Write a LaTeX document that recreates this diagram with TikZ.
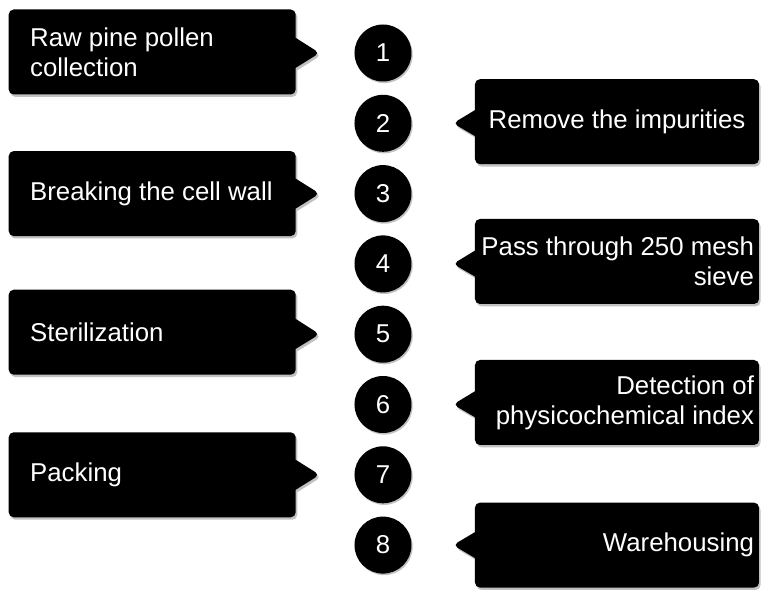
\documentclass[tikz,border=0pt]{standalone}
\usepackage{fontspec}
\setmainfont{Liberation Sans}
\usetikzlibrary{shapes.callouts,shadows}

\tikzstyle{stepnum} = [circle, minimum size=28.5pt, inner sep=0pt, text centered, fill=black, text=white, font=\fontsize{12.9}{15}\selectfont, drop shadow={shadow xshift=.6pt, shadow yshift=-.8pt, fill=black!40, opacity=.6}]
\tikzstyle{leftstage} = [rectangle callout, rounded corners=2.5pt, minimum width=143.5pt, minimum height=42.5pt, text width=122pt, inner xsep=0pt, align=flush left, fill=black, text=white, callout pointer width=15pt, font=\fontsize{12.9}{15}\selectfont, drop shadow={shadow xshift=.8pt, shadow yshift=-1.2pt, fill=black!40, opacity=.6}]
\tikzstyle{rightstage} = [rectangle callout, rounded corners=2.5pt, minimum width=142pt, minimum height=42.5pt, text width=137pt, inner xsep=0pt, align=flush right, fill=black, text=white, callout pointer width=13pt, font=\fontsize{12.9}{15}\selectfont, drop shadow={shadow xshift=.8pt, shadow yshift=-1.2pt, fill=black!40, opacity=.6}]

\begin{document}
\begin{tikzpicture}[node distance=35.15pt]
\path [use as bounding box, fill=white] (-191.5pt,26.5pt) rectangle (192.5pt,-273pt);

%Numbers
\node (C1) [stepnum] {1};
\node (C2) [stepnum,below of=C1] {2};
\node (C3) [stepnum,below of=C2] {3};
\node (C4) [stepnum,below of=C3] {4};
\node (C5) [stepnum,below of=C4] {5};
\node (C6) [stepnum,below of=C5] {6};
\node (C7) [stepnum,below of=C6] {7};
\node (C8) [stepnum,below of=C7] {8};

%Stages on the left
\node (S1) [leftstage,left of=C1,xshift=-80.25pt,yshift=.5pt,callout absolute pointer={([xshift=-17.25pt]C1.west)}] {Raw pine pollen\\collection};
\node (S3) [leftstage,left of=C3,xshift=-80.25pt,callout absolute pointer={([xshift=-17.25pt]C3.west)}] {Breaking the cell wall};
\node (S5) [leftstage,left of=C5,xshift=-80.25pt,yshift=1pt,callout absolute pointer={([xshift=-17.25pt]C5.west)}] {Sterilization};
\node (S7) [leftstage,left of=C7,xshift=-80.25pt,callout absolute pointer={([xshift=-17.25pt]C7.west)}] {Packing};

%Stages on the right
\node (S2) [rightstage,right of=C2,xshift=81.85pt,yshift=.8pt,align=flush center,callout absolute pointer={([xshift=20.6pt]C2.east)}] {Remove the impurities};
\node (S4) [rightstage,right of=C4,xshift=81.85pt,yshift=1.2pt,callout absolute pointer={([xshift=20.6pt]C4.east)}] {Pass through 250 mesh\\sieve};
\node (S6) [rightstage,right of=C6,xshift=81.85pt,yshift=1pt,callout absolute pointer={([xshift=20.6pt]C6.east)}] {Detection of\\physicochemical index};
\node (S8) [rightstage,right of=C8,xshift=81.85pt,callout absolute pointer={([xshift=20.6pt]C8.east)}] {Warehousing};

\end{tikzpicture}
\end{document}
